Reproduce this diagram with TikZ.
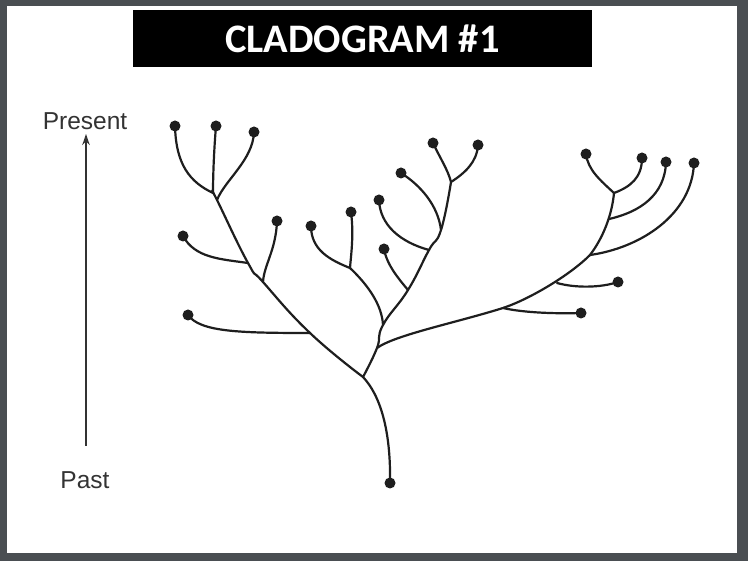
\documentclass[tikz,border=0pt]{standalone}
\usepackage{fontspec}
\setmainfont{Liberation Sans}
\newfontfamily\titlefont{Carlito}
\usetikzlibrary{arrows.meta}
\definecolor{frame}{HTML}{4A4E52}
\definecolor{ink}{HTML}{1E1E1E}
\definecolor{txt}{HTML}{333333}
\begin{document}
\begin{tikzpicture}[x=1pt,y=-1pt,
  leaf/.style={circle,fill=ink,draw=none,inner sep=0pt,minimum size=11pt},
  branch/.style={draw=ink,line width=2.2pt,line cap=round,line join=round},
  axislbl/.style={text=txt,font=\fontsize{24.5}{28}\selectfont,inner sep=0pt}]
\useasboundingbox (0,0) rectangle (748,561);
\fill[frame] (0,0) rectangle (748,561);
\fill[white] (7,6) rectangle (737,553);
% title
\node[fill=black,minimum width=459pt,minimum height=57pt,inner sep=0pt,anchor=north west] (title) at (133,10) {};
\node[text=white,font=\titlefont\bfseries\fontsize{40.5}{44}\selectfont,inner sep=0pt] (titletext) at (362.5,39) {CLADOGRAM \#1};
% axis
\node[axislbl] (present) at (85,121) {Present};
\node[axislbl] (past) at (85,480) {Past};
\coordinate (ax0) at (86,446);
\coordinate (ax1) at (86,134);
\draw[txt,line width=1.4pt,-{Stealth[length=11pt,width=7.5pt]}] (ax0) -- (ax1);
% junctions
\coordinate (j0) at (363,377);
\coordinate (jT) at (213,193);
\coordinate (jL0) at (217,200);
\coordinate (jL1) at (248,263);
\coordinate (jL2) at (263,282);
\coordinate (jL3) at (310,333);
\coordinate (jR0) at (377,348);
\coordinate (jM) at (383,325);
\coordinate (jR1) at (408,290);
\coordinate (jR2) at (429,250);
\coordinate (jR3) at (441,230);
\coordinate (jR4) at (451,182);
\coordinate (jMc) at (350,268);
\coordinate (jB1) at (503,308);
\coordinate (jB2) at (557,283);
\coordinate (jB3) at (590,255);
\coordinate (jB4) at (609,219);
\coordinate (jB5) at (614,193);
% leaves
\node[leaf] (root) at (390,483) {};
\node[leaf] (A) at (175,126) {};
\node[leaf] (B) at (216,126) {};
\node[leaf] (C) at (254,132) {};
\node[leaf] (D) at (183,236) {};
\node[leaf] (E) at (277,221) {};
\node[leaf] (F) at (188,315) {};
\node[leaf] (G) at (311,226) {};
\node[leaf] (H) at (351,212) {};
\node[leaf] (I) at (384,249) {};
\node[leaf] (J) at (379,200) {};
\node[leaf] (K) at (401,173) {};
\node[leaf] (L) at (433,143) {};
\node[leaf] (M) at (478,145) {};
\node[leaf] (N) at (581,313) {};
\node[leaf] (O) at (618,282) {};
\node[leaf] (P) at (694,163) {};
\node[leaf] (Q) at (666,162) {};
\node[leaf] (R) at (586,154) {};
\node[leaf] (S) at (642,158) {};
% trunk and stems
\draw[branch] (root.center) .. controls (391,430) and (380,395) .. (j0);
\draw[branch] plot[smooth,tension=0.8] coordinates {(j0) (jL3) (jL2) (jL1) (jL0) (jT)};
\draw[branch] plot[smooth,tension=0.8] coordinates {(j0) (jR0) (jM) (jR1) (jR2) (jR3) (jR4)};
\draw[branch] (jR0) .. controls (395,335) and (455,323) .. (jB1)
                    .. controls (530,299) and (570,275) .. (jB3)
                    .. controls (603,238) and (612,215) .. (jB5);
% left clade
\draw[branch] (A.center) .. controls (176,165) and (190,182) .. (jT);
\draw[branch] (B.center) .. controls (214,150) and (213,175) .. (jT);
\draw[branch] (C.center) .. controls (253,160) and (225,180) .. (jL0);
\draw[branch] (D.center) .. controls (195,258) and (220,259) .. (jL1);
\draw[branch] (E.center) .. controls (276,250) and (264,265) .. (jL2);
\draw[branch] (F.center) .. controls (200,332) and (240,333) .. (jL3);
% middle clade
\draw[branch] (G.center) .. controls (311,250) and (330,260) .. (jMc);
\draw[branch] (H.center) .. controls (354,235) and (351,255) .. (jMc);
\draw[branch] (jMc) .. controls (368,285) and (382,305) .. (jM);
\draw[branch] (I.center) .. controls (387,265) and (398,278) .. (jR1);
\draw[branch] (J.center) .. controls (380,225) and (400,242) .. (jR2);
\draw[branch] (K.center) .. controls (420,185) and (438,205) .. (jR3);
\draw[branch] (L.center) .. controls (440,158) and (448,170) .. (jR4);
\draw[branch] (M.center) .. controls (477,162) and (465,173) .. (jR4);
% right clade
\draw[branch] (jB1) .. controls (520,312) and (550,314) .. (N.center);
\draw[branch] (jB2) .. controls (575,288) and (600,288) .. (O.center);
\draw[branch] (jB3) .. controls (640,248) and (692,215) .. (P.center);
\draw[branch] (jB4) .. controls (640,212) and (665,195) .. (Q.center);
\draw[branch] (R.center) .. controls (588,170) and (600,180) .. (jB5);
\draw[branch] (S.center) .. controls (642,178) and (630,187) .. (jB5);
\end{tikzpicture}
\end{document}
